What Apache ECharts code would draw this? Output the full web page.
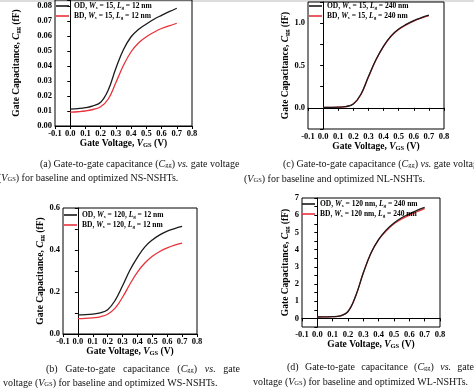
<!DOCTYPE html>
<html><head><meta charset="utf-8">
<script src="https://cdn.jsdelivr.net/npm/echarts@6/dist/echarts.min.js"></script>
<style>html,body{margin:0;padding:0;background:#fff}#c{width:474px;height:389px}</style>
</head><body><div id="c"></div>
<script>
// ---- data ----
const vgs = [0.0,0.05,0.1,0.15,0.2,0.25,0.3,0.35,0.4,0.45,0.5,0.55,0.6,0.65,0.7];
const xTicks = [-0.1,0.0,0.1,0.2,0.3,0.4,0.5,0.6,0.7,0.8];
// (a) NS-NSHTs
const nsOD = [0.0112,0.0116,0.0122,0.0134,0.0158,0.0240,0.0385,0.0510,0.0595,0.0645,0.0680,0.0712,0.0738,0.0762,0.0785];
const nsBD = [0.0092,0.0095,0.0100,0.0110,0.0128,0.0180,0.0290,0.0405,0.0495,0.0555,0.0595,0.0625,0.0650,0.0668,0.0685];
// (b) WS-NSHTs
const wsOD = [0.091,0.092,0.095,0.101,0.116,0.160,0.230,0.305,0.365,0.415,0.448,0.472,0.490,0.502,0.512];
const wsBD = [0.073,0.074,0.077,0.082,0.094,0.123,0.175,0.238,0.295,0.338,0.370,0.393,0.410,0.423,0.433];
// (c) NL-NSHTs
const nlOD = [0.005,0.006,0.008,0.015,0.045,0.160,0.370,0.570,0.730,0.850,0.930,0.985,1.030,1.065,1.095];
const nlBD = [0.005,0.006,0.008,0.015,0.044,0.155,0.365,0.565,0.725,0.845,0.925,0.980,1.025,1.060,1.090];
// (d) WL-NSHTs
const wlOD = [0.08,0.09,0.10,0.15,0.40,1.30,2.65,3.80,4.60,5.15,5.55,5.85,6.08,6.28,6.45];
const wlBD = [0.08,0.09,0.10,0.15,0.40,1.30,2.65,3.80,4.58,5.10,5.50,5.78,6.00,6.20,6.38];
const yTicksA = [0.00,0.01,0.02,0.03,0.04,0.05,0.06,0.07,0.08];
const yTicksB = [0.0,0.2,0.4,0.6];
const yTicksC = [0.0,0.5,1.0];
const yTicksD = [0,1,2,3,4,5,6,7];
const legendNames = {
  'OD, Ws = 15, Lg = 12 nm':'OD, {li|W}{ls|s} = 15, {li|L}{ls|g} = 12 nm',
  'BD, Ws = 15, Lg = 12 nm':'BD, {li|W}{ls|s} = 15, {li|L}{ls|g} = 12 nm',
  'OD, Ws = 120, Lg = 12 nm':'OD, {li|W}{ls|s} = 120, {li|L}{ls|g} = 12 nm',
  'BD, Ws = 120, Lg = 12 nm':'BD, {li|W}{ls|s} = 120, {li|L}{ls|g} = 12 nm',
  'OD, Ws = 15, Lg = 240 nm':'OD, {li|W}{ls|s} = 15, {li|L}{ls|g} = 240 nm',
  'BD, Ws = 15, Lg = 240 nm':'BD, {li|W}{ls|s} = 15, {li|L}{ls|g} = 240 nm',
  'OD, Ws = 120 nm, Lg = 240 nm':'OD, {li|W}{ls|s} = 120 nm, {li|L}{ls|g} = 240 nm',
  'BD, Ws = 120 nm, Lg = 240 nm':'BD, {li|W}{ls|s} = 120 nm, {li|L}{ls|g} = 240 nm'
};

// ---- layout / style ----
const FONT = '"Liberation Serif","Times New Roman",serif';
const BLACK = '#1a1a1a', RED = '#e8323a';
const grids = [
  {left:55, top:0, width:137, height:126},
  {left:63, top:208, width:134, height:126},
  {left:308, top:2, width:136, height:127},
  {left:302, top:198, width:138, height:129}
];
const axisRich = {
  i:{fontStyle:'italic',fontWeight:'bold',fontSize:9.5,fontFamily:FONT,color:'#000'},
  s:{fontWeight:'bold',fontSize:6.5,lineHeight:6,verticalAlign:'bottom',fontFamily:FONT,color:'#000'}
};
const yName = 'Gate Capacitance, {i|C}{s|gg} (fF)';
const xName = 'Gate Voltage, {i|V}{s|GS} (V)';
const yGaps = [33,15,16,11];
const yCfg = [
  {min:0,max:0.084,interval:0.01,ticks:yTicksA,dec:2},
  {min:0,max:0.6,interval:0.1,ticks:yTicksB,dec:1},
  {min:-0.25,max:1.25,interval:0.25,ticks:yTicksC,dec:1},
  {min:-0.5,max:7,interval:0.5,ticks:yTicksD,dec:0}
];
function near(list,v){return list.some(t=>Math.abs(t-v)<1e-6);}
const xAxes = grids.map((g,i)=>({
  type:'value',gridIndex:i,min:-0.1,max:0.8,interval:0.1,
  axisLine:{lineStyle:{color:'#000',width:1}},
  axisTick:{show:true,length:3,lineStyle:{color:'#000'}},
  splitLine:{show:false},
  axisLabel:{margin:3,fontSize:8.5,fontWeight:'bold',fontFamily:FONT,color:'#000',
    formatter:v=>near(xTicks,v)?v.toFixed(1):''},
  name:xName,nameLocation:'middle',nameGap:11,
  nameTextStyle:{fontSize:9.5,fontWeight:'bold',fontFamily:FONT,color:'#000',rich:axisRich}
}));
const yAxes = grids.map((g,i)=>({
  type:'value',gridIndex:i,min:yCfg[i].min,max:yCfg[i].max,interval:yCfg[i].interval,
  axisLine:{show:true,lineStyle:{color:'#000',width:1}},
  axisTick:{show:true,length:3,lineStyle:{color:'#000'}},
  splitLine:{show:false},
  axisLabel:{margin:3,fontSize:8.5,fontWeight:'bold',fontFamily:FONT,color:'#000',
    formatter:v=>near(yCfg[i].ticks,v)?v.toFixed(yCfg[i].dec):''},
  name:yName,nameLocation:'middle',nameGap:yGaps[i],
  nameTextStyle:{fontSize:9.5,fontWeight:'bold',fontFamily:FONT,color:'#000',rich:axisRich}
}));
function pairs(y){return vgs.map((x,k)=>[x,y[k]]);}
const sets = [
  ['OD, Ws = 15, Lg = 12 nm',nsOD,'BD, Ws = 15, Lg = 12 nm',nsBD],
  ['OD, Ws = 120, Lg = 12 nm',wsOD,'BD, Ws = 120, Lg = 12 nm',wsBD],
  ['OD, Ws = 15, Lg = 240 nm',nlOD,'BD, Ws = 15, Lg = 240 nm',nlBD],
  ['OD, Ws = 120 nm, Lg = 240 nm',wlOD,'BD, Ws = 120 nm, Lg = 240 nm',wlBD]
];
const series = [];
sets.forEach((s,i)=>{
  series.push({type:'line',name:s[0],xAxisIndex:i,yAxisIndex:i,data:pairs(s[1]),smooth:0.4,symbol:'none',lineStyle:{color:BLACK,width:1.3},itemStyle:{color:BLACK},z:3});
  series.push({type:'line',name:s[2],xAxisIndex:i,yAxisIndex:i,data:pairs(s[3]),smooth:0.4,symbol:'none',lineStyle:{color:RED,width:1.3},itemStyle:{color:RED},z:2});
});
const legRich = {
  li:{fontStyle:'italic',fontWeight:'bold',fontSize:7.5,fontFamily:FONT,color:'#000'},
  ls:{fontWeight:'bold',fontSize:5,lineHeight:5,verticalAlign:'bottom',fontFamily:FONT,color:'#000'}
};
const legPos = [[56,2],[64,211],[309,2],[302,200]];
const legends = sets.map((s,i)=>({
  data:[s[0],s[2]],orient:'vertical',left:legPos[i][0],top:legPos[i][1],
  itemWidth:13,itemHeight:1.6,itemGap:2,icon:'rect',padding:0,selectedMode:false,
  formatter:n=>legendNames[n],
  textStyle:{fontSize:7.5,fontWeight:'bold',fontFamily:FONT,color:'#000',rich:legRich}
}));

// ---- captions ----
const capRich = {
  i:{fontStyle:'italic',fontSize:10,fontFamily:FONT,color:'#111'},
  s:{fontSize:6.5,lineHeight:6,verticalAlign:'bottom',fontFamily:FONT,color:'#111'}
};
const cv = document.createElement('canvas').getContext('2d');
function segW(segs){let w=0;segs.forEach(([t,st])=>{cv.font=(st==='i'?'italic ':'')+(st==='s'?'6.5px ':'10px ')+FONT;w+=cv.measureText(t).width;});return w;}
function segStr(segs){return segs.map(([t,st])=>st==='n'?t:'{'+st+'|'+t+'}').join('');}
function textEl(x,y,str){return {type:'text',left:x,top:y,z:10,style:{text:str,fontSize:10,fontFamily:FONT,fill:'#111',rich:capRich}};}
function justify(words,x0,x1,y){
  const ws=words.map(segW);const total=ws.reduce((a,b)=>a+b,0);
  const gap=(x1-x0-total)/(words.length-1);let x=x0;const out=[];
  words.forEach((w,k)=>{out.push(textEl(x,y,segStr(w)));x+=ws[k]+gap;});return out;
}
const graphics = [
  {type:'rect',shape:{x:0,y:0,width:474,height:2},style:{fill:'#dcdcdc'},z:-1},
  textEl(40,159,'(a) Gate-to-gate capacitance ({i|C}{s|gg}) {i|vs.} gate voltage'),
  textEl(-2,173,'({i|V}{s|GS}) for baseline and optimized NS-NSHTs.'),
  textEl(283,159,'(c) Gate-to-gate capacitance ({i|C}{s|gg}) {i|vs.} gate voltage'),
  textEl(244,174,'({i|V}{s|GS}) for baseline and optimized NL-NSHTs.'),
  ...justify([[['(b)','n']],[['Gate-to-gate','n']],[['capacitance','n']],[['(','n'],['C','i'],['gg','s'],[')','n']],[['vs.','i']],[['gate','n']]],46,240,364),
  textEl(3,378,'voltage ({i|V}{s|GS}) for baseline and optimized WS-NSHTs.'),
  ...justify([[['(d)','n']],[['Gate-to-gate','n']],[['capacitance','n']],[['(','n'],['C','i'],['gg','s'],[')','n']],[['vs.','i']],[['gate','n']]],287,474,362),
  textEl(253,377,'voltage ({i|V}{s|GS}) for baseline and optimized WL-NSHTs.')
];

const chart = echarts.init(document.getElementById('c'),null,{renderer:'canvas'});
chart.setOption({
  animation:false,backgroundColor:'#fff',
  grid:grids.map(g=>Object.assign({show:true,borderColor:'#000',borderWidth:1,backgroundColor:'transparent'},g)),
  xAxis:xAxes,yAxis:yAxes,legend:legends,series:series,graphic:graphics
});
</script></body></html>
